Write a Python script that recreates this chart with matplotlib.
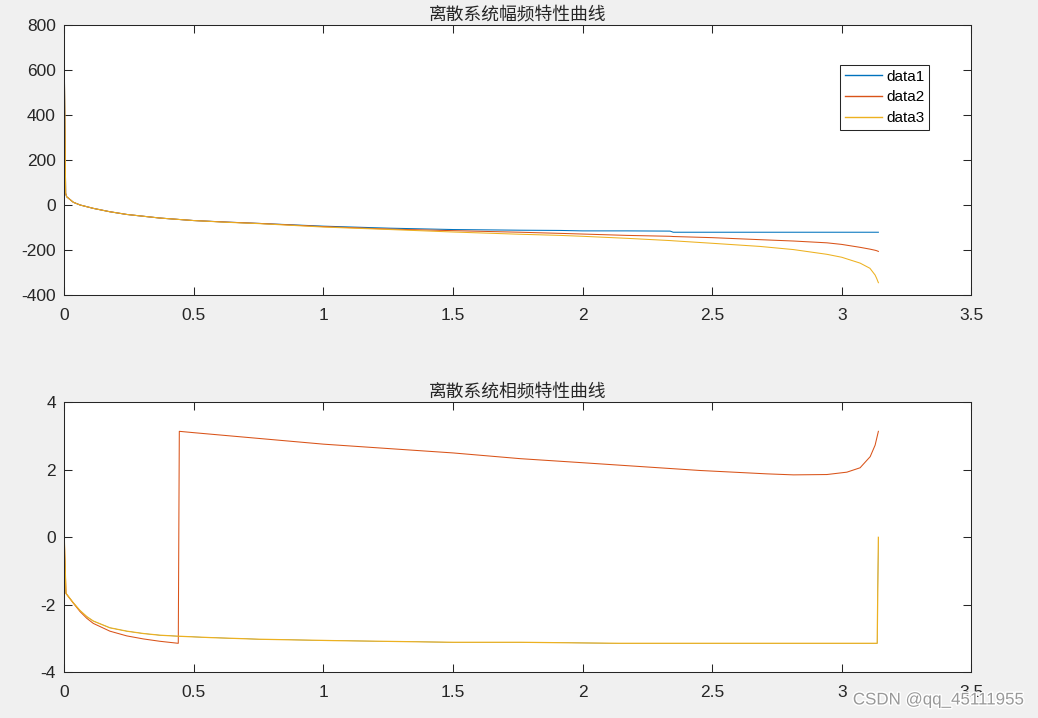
import matplotlib.pyplot as plt
import matplotlib.patheffects as pe
from matplotlib.ticker import FormatStrFormatter, MultipleLocator

plt.rcParams['axes.unicode_minus'] = False
plt.rcParams['font.family'] = ['Liberation Sans', 'DejaVu Sans']

# 幅频 (magnitude)
mag_x = [0.0, 0.0054, 0.009, 0.035, 0.061, 0.112, 0.176, 0.241, 0.369, 0.498,
         0.627, 0.755, 1.0, 1.257, 1.5, 1.76, 1.913, 2.0, 2.171, 2.338, 2.35,
         2.5, 2.685, 2.814, 2.943, 3.0, 3.071, 3.109, 3.129, 3.135, 3.1416]
mag1 = [640, 53, 38, 13, 1, -14, -29, -41, -57, -68, -75, -81, -93, -102, -108,
        -111, -112, -114, -114, -115, -120, -120, -120, -120, -120, -120, -120,
        -120, -120, -120, -120]
mag2 = [640, 53, 38, 13, 1, -14, -29, -41, -57, -68, -75, -81, -95, -106, -113,
        -120, -125, -128, -134, -138, -139, -144, -153, -159, -167, -174, -187,
        -195, -200, -202, -205]
mag3 = [640, 53, 38, 13, 1, -14, -29, -41, -57, -68, -76, -82, -97, -108, -119,
        -129, -134, -138, -147, -157, -158, -169, -183, -197, -218, -231, -257,
        -280, -310, -325, -344]

# 相频 (phase)
ph_x3 = [0.0, 0.0066, 0.035, 0.061, 0.087, 0.112, 0.176, 0.241, 0.305, 0.369,
         0.44, 0.562, 0.755, 1.04, 1.5, 1.76, 2.14, 3.137, 3.1416]
ph3 = [0, -1.66, -1.94, -2.17, -2.35, -2.48, -2.68, -2.78, -2.85, -2.90,
       -2.93, -2.97, -3.02, -3.06, -3.11, -3.11, -3.14, -3.14, 0]
ph_x1 = ph_x3
ph1 = ph3
ph_x2 = [0.0, 0.0066, 0.035, 0.061, 0.087, 0.112, 0.176, 0.241, 0.305, 0.369,
         0.44, 0.444, 0.5, 1.0, 1.5, 1.76, 2.0, 2.453, 2.582, 2.711, 2.814,
         2.943, 3.02, 3.071, 3.11, 3.129, 3.1416]
ph2 = [0, -1.66, -1.95, -2.20, -2.40, -2.55, -2.78, -2.92, -3.01, -3.08,
       -3.14, 3.14, 3.10, 2.76, 2.50, 2.33, 2.21, 1.98, 1.93, 1.88, 1.85,
       1.86, 1.93, 2.06, 2.39, 2.73, 3.14]

labels = ['data1', 'data2', 'data3']
colors = ['#0072BD', '#D95319', '#EDB120']
txt = '#262626'
cjk = ['Noto Sans CJK SC', 'DejaVu Sans']

fig = plt.figure(figsize=(10.38, 7.18), dpi=100, facecolor='#f0f0f0')
ax1 = fig.add_axes([0.0619, 0.5887, 0.8738, 0.3765])
ax2 = fig.add_axes([0.0619, 0.0636, 0.8738, 0.3761])

for ys, c, l in zip([mag1, mag2, mag3], colors, labels):
    ax1.plot(mag_x, ys, color=c, lw=0.75, label=l)
# data1 phase sits right under data3
for xs, ys, c, w in zip([ph_x1, ph_x2, ph_x3], [ph1, ph2, ph3], colors,
                        [0.3, 0.75, 0.9]):
    ax2.plot(xs, ys, color=c, lw=w)

ax1.set_ylim(-400, 800)
ax1.yaxis.set_major_locator(MultipleLocator(200))
ax2.set_ylim(-4, 4)
ax2.yaxis.set_major_locator(MultipleLocator(2))

for ax in (ax1, ax2):
    ax.set_xlim(0, 3.5)
    ax.xaxis.set_major_locator(MultipleLocator(0.5))
    ax.xaxis.set_major_formatter(FormatStrFormatter('%g'))
    ax.yaxis.set_major_formatter(FormatStrFormatter('%g'))
    ax.tick_params(direction='in', top=True, right=True, length=6, width=0.75,
                   color=txt, labelcolor=txt, labelsize=12.5)
    ax.tick_params(axis='x', pad=9)
    ax.tick_params(axis='y', pad=6)
    for s in ax.spines.values():
        s.set_linewidth(0.75)
        s.set_color(txt)

ax1.set_title('离散系统幅频特性曲线', family=cjk, fontsize=12.8, color=txt, pad=4)
ax2.set_title('离散系统相频特性曲线', family=cjk, fontsize=12.8, color=txt, pad=4)

leg = ax1.legend(loc='upper right', bbox_to_anchor=(0.9534, 0.852),
                 borderaxespad=0, fontsize=11, fancybox=False, framealpha=1,
                 edgecolor=txt, handlelength=2.4, handletextpad=0.3,
                 labelspacing=0.45, borderpad=0.3)
leg.get_frame().set_linewidth(0.75)
for h in leg.get_lines():
    h.set_linewidth(1.0)

fig.text(0.986, 0.025, 'CSDN @qq_45111955', ha='right', va='center',
         fontsize=12.2, color='#999999',
         path_effects=[pe.withStroke(linewidth=2, foreground='white')])

fig.savefig('out.png', dpi=100, facecolor=fig.get_facecolor())
